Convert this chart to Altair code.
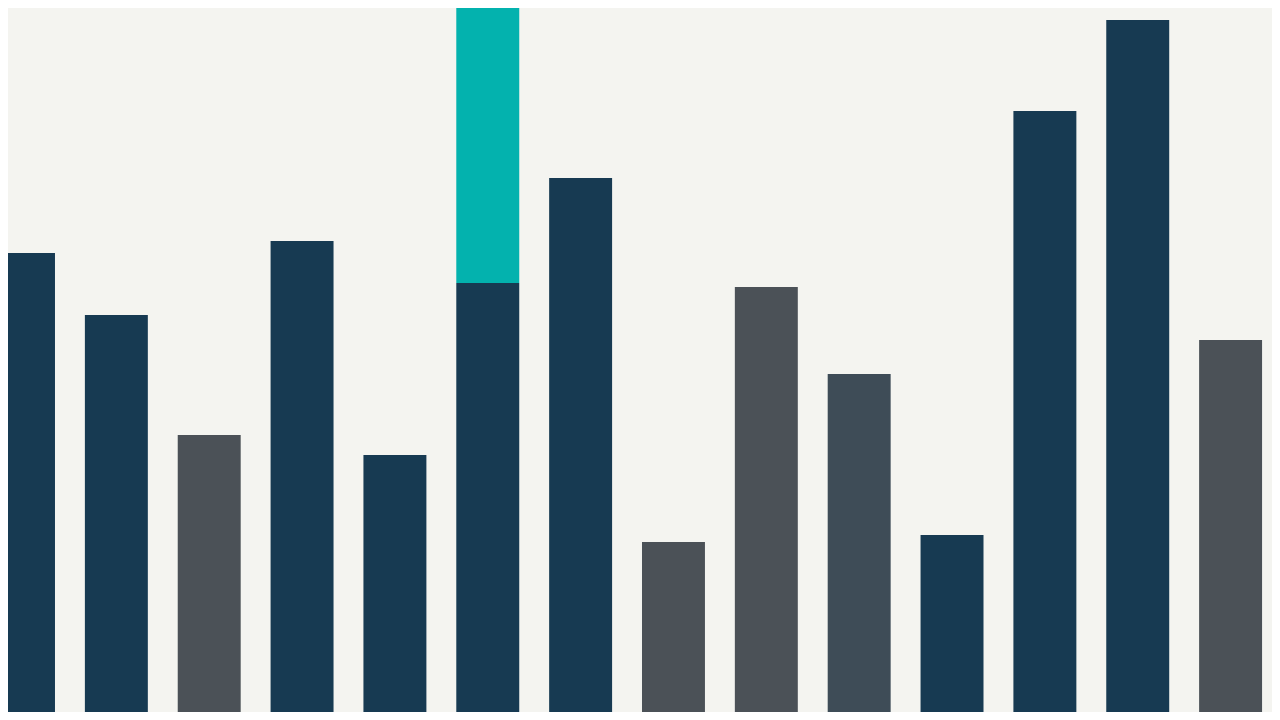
import altair as alt
import pandas as pd

# Data (bar order left to right)
bar_index = list(range(14))
base_values = [45.9, 39.7, 27.7, 47.1, 25.7, 42.9, 53.4, 17.0, 42.5, 33.8, 17.7, 60.1, 69.2, 37.2]
groups = ["core", "core", "muted", "core", "core", "core", "core",
          "muted", "muted", "slate", "core", "core", "core", "muted"]
highlight_values = [0, 0, 0, 0, 0, 30.0, 0, 0, 0, 0, 0, 0, 0, 0]

df = pd.DataFrame({
    "i": bar_index,
    "value": base_values,
    "group": groups,
    "extra": highlight_values,
})

x_scale = alt.Scale(domain=[-0.167, 13.446], nice=False, zero=False)
y_scale = alt.Scale(domain=[0, 70.4], nice=False, zero=True)

base = alt.Chart(df).transform_calculate(
    x0="datum.i - 0.339", x1="datum.i + 0.339"
)

bars = base.mark_bar(clip=True).encode(
    x=alt.X("x0:Q", scale=x_scale, axis=None),
    x2="x1:Q",
    y=alt.Y("value:Q", scale=y_scale, axis=None),
    y2=alt.datum(0),
    color=alt.Color(
        "group:N",
        scale=alt.Scale(domain=["core", "muted", "slate"],
                        range=["#173a52", "#4b5157", "#3e4c57"]),
        legend=None,
    ),
)

highlight = base.transform_filter("datum.extra > 0").transform_calculate(
    top="datum.value + datum.extra"
).mark_bar(clip=True, color="#03b2ae").encode(
    x=alt.X("x0:Q", scale=x_scale, axis=None),
    x2="x1:Q",
    y=alt.Y("value:Q", scale=y_scale, axis=None),
    y2="top:Q",
)

chart = alt.layer(bars, highlight).properties(
    width=1264,
    height=704,
    autosize=alt.AutoSizeParams(type="fit", contains="padding"),
    padding=0,
    background="#f4f4f0",
).configure_view(stroke=None, fill="#f4f4f0")

chart.save("out.html", embed_options={"renderer": "svg", "actions": False})
